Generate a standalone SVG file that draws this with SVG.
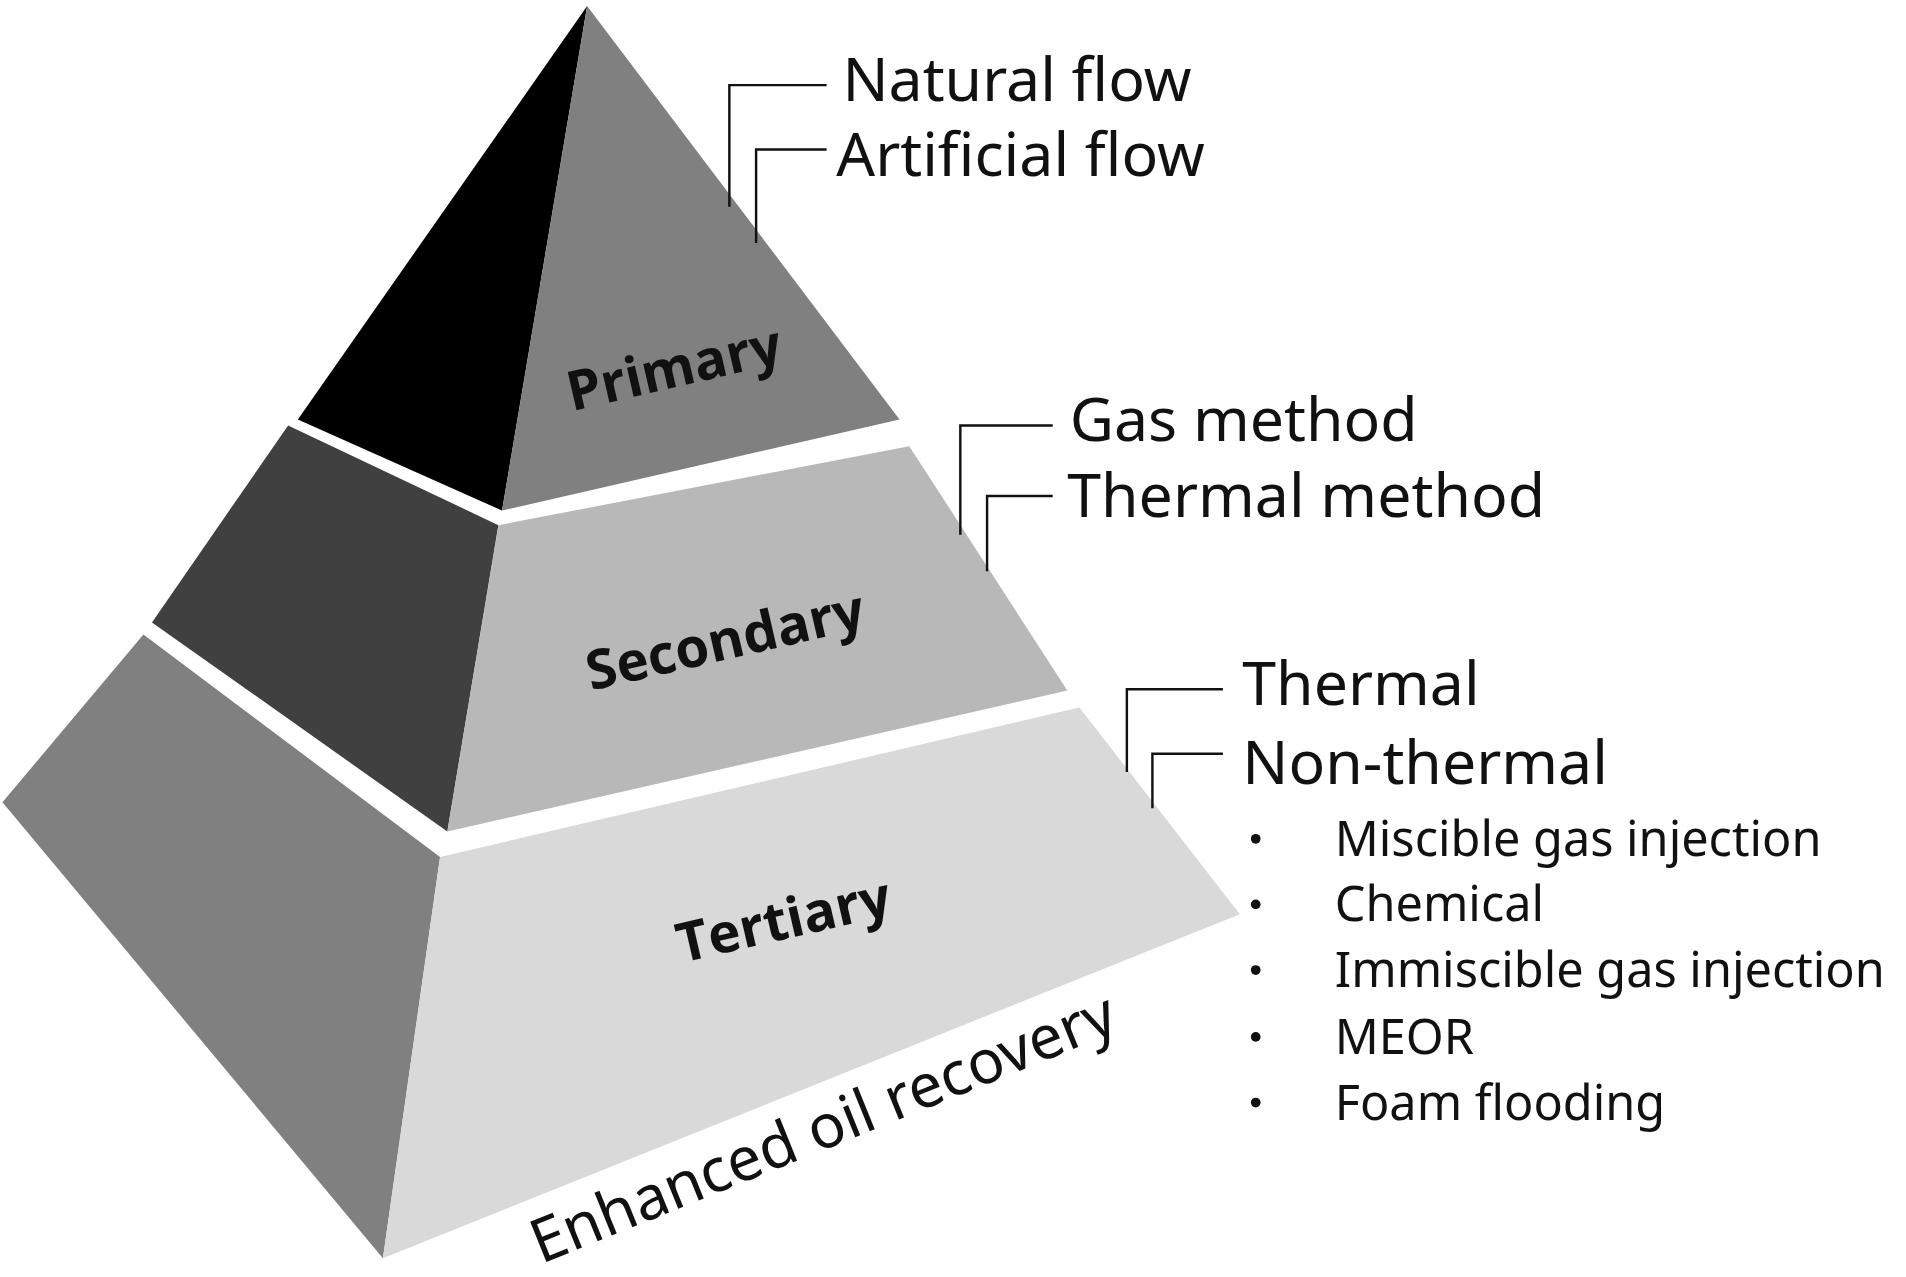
<svg xmlns="http://www.w3.org/2000/svg" width="1906" height="1277" viewBox="0 0 1906 1277">
<style>
.lbl{font-family:"Open Sans","Liberation Sans",sans-serif;font-weight:bold;font-size:45px;fill:#111}
.t{font-family:"Noto Sans","Liberation Sans",sans-serif;font-size:50px;fill:#111}
.s{font-family:"Noto Sans","Liberation Sans",sans-serif;font-size:40px;fill:#111}
.c{fill:none;stroke:#111;stroke-width:2}
</style>
<rect width="1906" height="1277" fill="#fff"/>
<g transform="scale(1.2156)">
<g id="primary">
<polygon points="483,5 413,420 245,345" fill="#000"/>
<polygon points="483,5 740,345 413,420" fill="#808080"/>
<text class="lbl" transform="translate(558,318) rotate(-13)" text-anchor="middle">Primary</text>
</g>
<g id="secondary">
<polygon points="237,350 410,432 368,684 125,512" fill="#404040"/>
<polygon points="410,432 748,367 878,568 368,684" fill="#b8b8b8"/>
<text class="lbl" transform="translate(600,542) rotate(-13)" text-anchor="middle">Secondary</text>
</g>
<g id="tertiary">
<polygon points="118,522 362,705 315,1035 2,660" fill="#808080"/>
<polygon points="362,705 888,582 1020,752 315,1035" fill="#d9d9d9"/>
<text class="lbl" transform="translate(648,772) rotate(-13)" text-anchor="middle">Tertiary</text>
<text class="t" font-size="46" transform="translate(445,1040) rotate(-22)">Enhanced oil recovery</text>
</g>
<g id="connectors">
<polyline class="c" points="600,170 600,70 680,70"/>
<polyline class="c" points="622,200 622,123 680,123"/>
<polyline class="c" points="790,440 790,350 866,350"/>
<polyline class="c" points="812,470 812,408 866,408"/>
<polyline class="c" points="927,635 927,567 1006,567"/>
<polyline class="c" points="948,665 948,620 1006,620"/>
</g>
<g id="labels">
<text class="t" x="693" y="83">Natural flow</text>
<text class="t" x="688" y="145">Artificial flow</text>
<text class="t" x="880" y="363">Gas method</text>
<text class="t" x="878" y="425">Thermal method</text>
<text class="t" x="1022" y="580">Thermal</text>
<text class="t" x="1022" y="645">Non-thermal</text>
<g class="s">
<circle cx="1033" cy="690" r="4"/><text x="1098" y="704">Miscible gas injection</text>
<circle cx="1033" cy="744" r="4"/><text x="1098" y="758">Chemical</text>
<circle cx="1033" cy="798" r="4"/><text x="1098" y="812">Immiscible gas injection</text>
<circle cx="1033" cy="853" r="4"/><text x="1098" y="867">MEOR</text>
<circle cx="1033" cy="907" r="4"/><text x="1098" y="921">Foam flooding</text>
</g>
</g>
</g>
</svg>
